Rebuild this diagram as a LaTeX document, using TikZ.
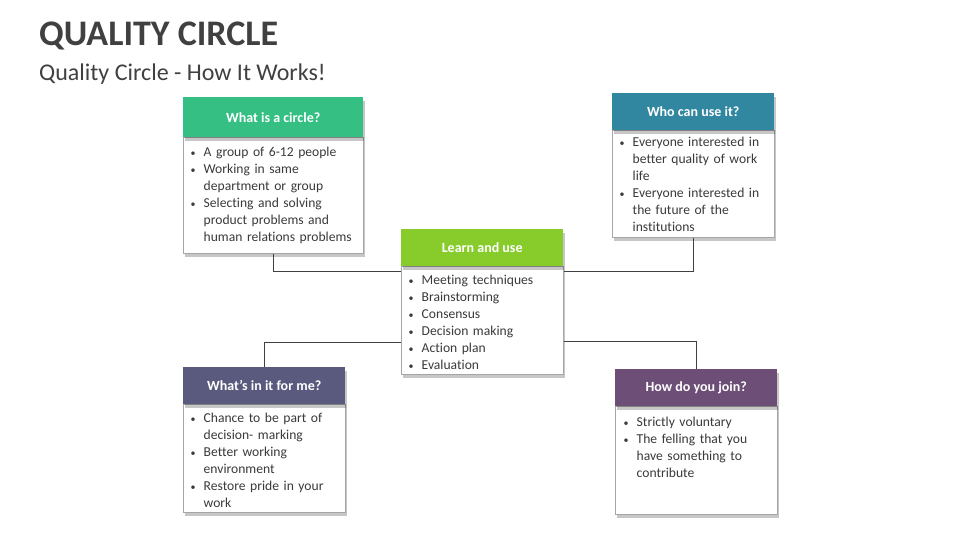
\documentclass[tikz,border=0pt]{standalone}
\usepackage{fontspec}
\setmainfont{Carlito}[Ligatures=NoCommon]
\usetikzlibrary{shadows}
\definecolor{titlegray}{HTML}{404040}
\definecolor{textgray}{HTML}{3A3A3A}
\definecolor{bordergray}{HTML}{A6A6A6}
\definecolor{linegray}{HTML}{404040}
\definecolor{hgreen}{HTML}{35BF83}
\definecolor{hteal}{HTML}{3287A0}
\definecolor{hlime}{HTML}{88CC2C}
\definecolor{hslate}{HTML}{5A5A7F}
\definecolor{hpurple}{HTML}{6D4E77}
\newcommand{\nl}{\hfil\break}
\newcommand{\bitem}[1]{\par\hangindent=13pt\hangafter=1\noindent\makebox[13pt][l]{\rule{0pt}{10pt}{\fontsize{10}{10}\selectfont\textbullet}}#1\par}
\tikzset{
  shad/.style={drop shadow={shadow xshift=2pt, shadow yshift=-4pt, opacity=0.22, fill=black}},
  boxbody/.style={draw=bordergray, line width=0.8pt, fill=white, anchor=north west, inner sep=0pt, shad},
  boxhead/.style={anchor=north west, inner sep=0pt, text=white, font=\bfseries\fontsize{14}{16}\selectfont, shad},
  listtext/.style={anchor=north west, inner sep=0pt, text=textgray, font=\fontsize{13.6}{16.9}\selectfont, text width=175pt, execute at begin node=\raggedright},
  conn/.style={draw=linegray, line width=0.9pt}
}
\begin{document}
\begin{tikzpicture}[x=1pt,y=-1pt]
\useasboundingbox (0,0) rectangle (960,540);
\node[anchor=base west, inner sep=0pt, text=titlegray, font=\bfseries\fontsize{36}{40}\selectfont] (title) at (39,46) {QUALITY CIRCLE};
\node[anchor=base west, inner sep=0pt, text=titlegray, font=\fontsize{24}{28}\selectfont] (subtitle) at (39,81) {Quality Circle - How It Works!};

% box 1
\node[boxbody, minimum width=180pt, minimum height=116pt] (b1) at (183,137) {};
\node[boxhead, fill=hgreen, minimum width=180pt, minimum height=40pt] (h1) at (183,97) {What is a circle?};
\node[listtext] (t1) at (190.5,139.5) {\bitem{A group of 6-12 people}\bitem{Working in same\nl department or group}\bitem{Selecting and solving\nl product problems and\nl human relations problems}};

% box 2
\node[boxbody, minimum width=162pt, minimum height=107pt] (b2) at (612,130) {};
\node[boxhead, fill=hteal, minimum width=162pt, minimum height=37pt] (h2) at (612,93) {Who can use it?};
\node[listtext] (t2) at (619.5,129.5) {\bitem{Everyone interested in\nl better quality of work\nl life}\bitem{Everyone interested in\nl the future of the\nl institutions}};

% box 3
\node[boxbody, minimum width=162pt, minimum height=108pt] (b3) at (401,266) {};
\node[boxhead, fill=hlime, minimum width=162pt, minimum height=37pt] (h3) at (401,229) {Learn and use};
\node[listtext] (t3) at (408.5,267.5) {\bitem{Meeting techniques}\bitem{Brainstorming}\bitem{Consensus}\bitem{Decision making}\bitem{Action plan}\bitem{Evaluation}};

% box 4
\node[boxbody, minimum width=162pt, minimum height=108pt] (b4) at (183,404) {};
\node[boxhead, fill=hslate, minimum width=162pt, minimum height=37pt] (h4) at (183,367) {What{\char"27}s in it for me?};
\node[listtext] (t4) at (190.5,405.5) {\bitem{Chance to be part of\nl decision- marking}\bitem{Better working\nl environment}\bitem{Restore pride in your\nl work}};

% box 5
\node[boxbody, minimum width=162pt, minimum height=108pt] (b5) at (615,406) {};
\node[boxhead, fill=hpurple, minimum width=162pt, minimum height=37pt] (h5) at (615,369) {How do you join?};
\node[listtext] (t5) at (623.5,409.5) {\bitem{Strictly voluntary}\bitem{The felling that you\nl have something to\nl contribute}};

% connectors
\draw[conn] (b1.south) |- ([yshift=-5pt]b3.north west);
\draw[conn] (b2.south) |- ([yshift=-5pt]b3.north east);
\draw[conn] (h4.north) |- ([yshift=-76pt]b3.north west);
\draw[conn] (h5.north) |- ([yshift=-75pt]b3.north east);
\end{tikzpicture}
\end{document}
